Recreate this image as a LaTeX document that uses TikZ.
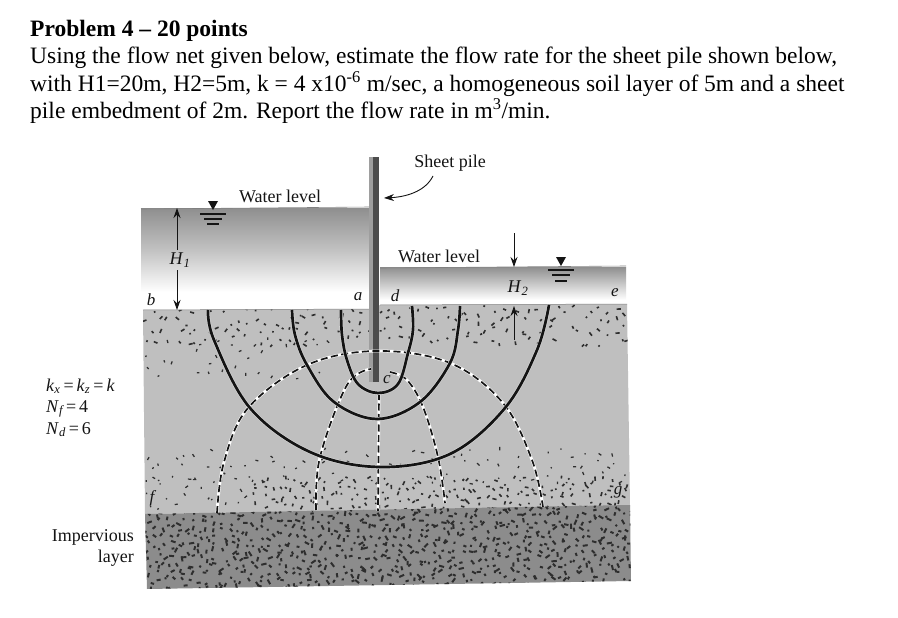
\documentclass[tikz,border=0pt]{standalone}
\usepackage{fontspec}
\setmainfont{Liberation Serif}
\usepackage{amsmath}
\usetikzlibrary{positioning,arrows.meta}
\definecolor{soilgray}{gray}{0.75}
\definecolor{rockgray}{gray}{0.55}
\definecolor{watergray}{gray}{0.56}
\definecolor{inkgray}{gray}{0.08}
\tikzset{
  headline/.style={anchor=base west,font=\fontsize{23.5}{27}\selectfont,inner sep=0pt},
  fig label/.style={font=\fontsize{18}{21}\selectfont,text=inkgray,inner sep=0pt},
  point label/.style={font=\fontsize{17}{20}\selectfont\itshape,text=inkgray,inner sep=0pt},
  flow line/.style={line width=2.7pt,inkgray,preaction={draw=white!85!black,line width=3.8pt}},
  equi line/.style={line width=1.7pt,inkgray,dash pattern=on 7pt off 3.5pt,preaction={draw=white,solid,line width=2.8pt}},
  dim arrow/.style={-{Stealth[length=10pt,width=7pt]},line width=0.9pt,inkgray},
  water bar/.style={line width=1.9pt,inkgray}
}
\newcommand{\subtext}[1]{\textsubscript{\itshape #1}}
% even scatter of small grains: left, right, top, bottom, step, size, keep rate
\newcommand{\speckle}[7]{%
  \pgfmathsetmacro{\nextx}{#1+#5}%
  \pgfmathsetmacro{\nexty}{#3+#5}%
  \foreach \cx in {#1,\nextx,...,#2}{%
    \foreach \cy in {#3,\nexty,...,#4}{%
      \pgfmathsetmacro{\keep}{rnd<#7 ? 1 : 0}%
      \ifnum\keep=1
        \pgfmathsetmacro{\gx}{\cx+rnd*#5}%
        \pgfmathsetmacro{\gy}{\cy+rnd*#5}%
        \pgfmathsetmacro{\ga}{rnd*180}%
        \pgfmathsetmacro{\gl}{#6*(0.6+rnd*1.1)}%
        \fill[black!82,rotate around={\ga:(\gx,\gy)}] (\gx-\gl,\gy-#6*0.62) rectangle (\gx+\gl,\gy+#6*0.62);
      \fi
    }%
  }%
}
\begin{document}
\begin{tikzpicture}[x=1pt,y=-1pt]
\path [use as bounding box,fill=white] (0,0) rectangle (898,618);
\pgfmathsetseed{7}

% problem text
\node [headline] (title) at (30,37) {\textbf{Problem 4 – 20 points}};
\node [headline] (line1) at (30,64) {Using the flow net given below, estimate the flow rate for the sheet pile shown below,};
\node [headline] (line2) at (30,92) {with H1=20m, H2=5m, k = 4 x10\textsuperscript{-6} m/sec, a homogeneous soil layer of 5m and a sheet};
\node [headline] (line3) at (30,119) {pile embedment of 2m. Report the flow rate in m\textsuperscript{3}/min.};

% water
\shade [top color=watergray,bottom color=white,middle color=black!24] (141,208) rectangle (370,292);
\shade [top color=watergray,bottom color=white] (380,267) rectangle (626,300);
\draw [gray,line width=0.6pt] (141,209) -- (370,207);
\draw [gray,line width=0.6pt] (380,268) -- (626,266);

% soil and impervious layer
\fill [soilgray] (143,310) -- (370,309) -- (380,305) -- (627,304) -- (630,506) -- (145,514) -- cycle;
\begin{scope}
\clip (143,310) -- (370,309) -- (380,305) -- (627,304) -- (630,506) -- (145,514) -- cycle;
\speckle{143}{627}{306}{336}{10}{1.3}{0.8}
\speckle{143}{330}{337}{366}{14}{1.0}{0.7}
\speckle{143}{627}{448}{476}{12}{1.0}{0.7}
\speckle{250}{627}{477}{508}{8}{1.3}{0.95}
\speckle{143}{250}{477}{508}{11}{1.0}{0.7}
\end{scope}
\fill [rockgray] (145,514) -- (630,505) -- (631,581) -- (147,589) -- cycle;
\begin{scope}
\clip (145,514) -- (630,505) -- (631,581) -- (147,589) -- cycle;
\speckle{145}{631}{503}{588}{7.5}{1.6}{1}
\end{scope}
\draw [gray,line width=0.5pt] (143,310) -- (370,309) (380,305) -- (627,304);

% sheet pile
\fill [black!38] (369,157) rectangle (373,382);
\fill [black!70] (373,157) rectangle (379,382);

% equipotential lines
\draw [equi line] plot [smooth,tension=0.6] coordinates {(217,513) (224,462) (248,408) (307,365) (377,351) (450,363) (503,403) (532,460) (543,507)};
\draw [equi line] plot [smooth,tension=0.6] coordinates {(316,510) (320,457) (347,385) (371,369)};
\draw [equi line] plot [smooth,tension=0.6] coordinates {(390,372) (407,380) (423,407) (438,457) (445,503)};
\draw [equi line] (379,393) -- (378,511);

% flow lines
\draw [flow line] plot [smooth,tension=0.6] coordinates {(208,310) (214,340) (250,408) (310,452) (380,467) (450,454) (505,408) (537,350) (549,305)};
\draw [flow line] plot [smooth,tension=0.6] coordinates {(292,310) (295,335) (307,365) (334,402) (377,419) (420,402) (450,363) (458,330) (460,306)};
\draw [flow line] plot [smooth,tension=0.6] coordinates {(341,310) (342,335) (347,360) (358,384) (378,393) (398,384) (408,353) (413,330) (412,306)};

% water level symbols
\fill [inkgray] (208,201) -- (218,201) -- (213,210) -- cycle;
\draw [water bar] (200,214) -- (226,214) (204,219) -- (222,219) (207,224) -- (219,224);
\fill [inkgray] (556,257) -- (566,257) -- (561,266) -- cycle;
\draw [water bar] (548,270) -- (574,270) (552,275) -- (570,275) (555,281) -- (567,281);

% labels
\node [fig label] (sheetpile) at (450,163) {Sheet pile};
\node [fig label] (levelleft) at (280,196) {Water level};
\node [fig label] (levelright) at (439,256) {Water level};
\node [fig label] (hone) at (180,260) {\textit{H}\subtext{1}};
\node [fig label] (htwo) at (518,288) {\textit{H}\subtext{2}};
\node [point label] (b) at (151,300) {b};
\node [point label] (a) at (358,297) {a};
\node [point label] (d) at (395,296) {d};
\node [point label] (e) at (615,293) {e};
\node [point label] (f) at (152,498) {f};
\node [point label] (g) at (618,492) {g};
\node [point label] (c) at (387,380) {c};
\node [fig label,anchor=base west] (kk) at (46,391) {\textit{k}\subtext{x}\,=\,\textit{k}\subtext{z}\,=\,\textit{k}};
\node [fig label,anchor=base west] (nf) at (46,412) {\textit{N}\subtext{f}\,=\,4};
\node [fig label,anchor=base west] (nd) at (46,434) {\textit{N}\subtext{d}\,=\,6};
\node [fig label,anchor=base east] (imp) at (134,541) {Impervious};
\node [fig label,anchor=base east] (lay) at (134,562) {layer};

% dimension arrows
\coordinate (hone top) at (177,208);
\coordinate (hone bot) at (177,310);
\coordinate (htwo top) at (514,267);
\coordinate (htwo bot) at (514,306);
\coordinate (htwo a) at (514,233);
\coordinate (htwo b) at (514,340);
\coordinate (pile c) at (384,198);
\coordinate (pile d) at (433,176);
\draw [dim arrow] (177,250) -- (hone top);
\draw [dim arrow] (177,270) -- (hone bot);
\draw [dim arrow] (htwo a) -- (htwo top);
\draw [dim arrow] (htwo b) -- (htwo bot);
\draw [dim arrow] (pile d) .. controls (425,192) and (405,197) .. (pile c);
\end{tikzpicture}
\end{document}
